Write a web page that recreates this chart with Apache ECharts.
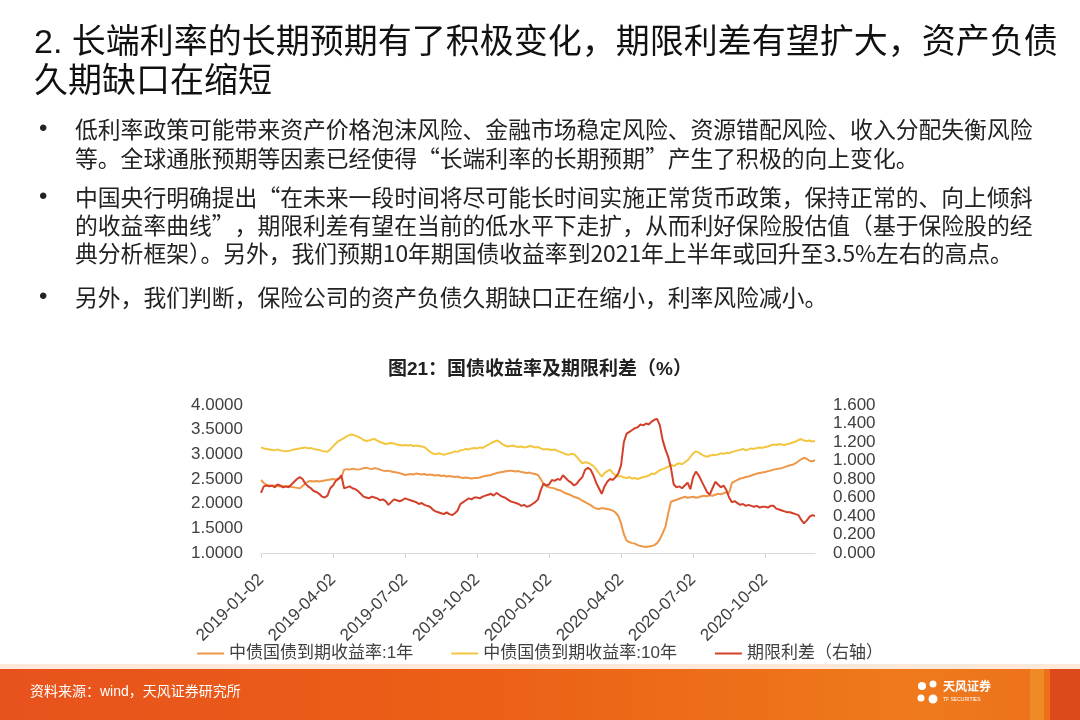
<!DOCTYPE html>
<html>
<head>
<meta charset="utf-8">
<script src="https://cdn.jsdelivr.net/npm/echarts@6/dist/echarts.min.js"></script>
<style>
html,body{margin:0;padding:0;background:#fff;}
#c{width:1080px;height:720px;}
</style>
</head>
<body>
<div id="c"></div>
<script>
// ---------- data ----------
const tickLabels = ['2019-01-02','2019-04-02','2019-07-02','2019-10-02','2020-01-02','2020-04-02','2020-07-02','2020-10-02'];
const pointsPerQuarter = [26,26,26,26,26,26,26,19];

const seriesNames = ['中债国债到期收益率:1年','中债国债到期收益率:10年','期限利差（右轴）'];

const yield1Y = [
  2.48,2.42,2.38,2.37,2.36,2.37,2.36,2.35,2.36,2.35,2.36,2.34,2.33,2.32,2.31,2.36,2.41,2.45,2.46,2.45,2.46,2.45,2.46,2.47,2.48,2.49,
  2.50,2.49,2.51,2.53,2.69,2.70,2.69,2.71,2.70,2.69,2.70,2.72,2.73,2.71,2.70,2.72,2.71,2.69,2.67,2.66,2.67,2.65,2.64,2.63,2.62,2.60,
  2.58,2.59,2.60,2.59,2.61,2.60,2.59,2.60,2.58,2.59,2.58,2.57,2.58,2.56,2.57,2.55,2.56,2.55,2.54,2.55,2.53,2.52,2.53,2.52,2.51,2.52,
  2.52,2.53,2.55,2.56,2.57,2.58,2.60,2.62,2.63,2.64,2.65,2.66,2.67,2.66,2.65,2.66,2.64,2.63,2.62,2.63,2.61,2.60,2.58,2.50,2.40,2.35,
  2.33,2.32,2.31,2.28,2.27,2.24,2.21,2.19,2.17,2.14,2.12,2.10,2.06,2.03,2.00,1.97,1.93,1.90,1.89,1.91,1.90,1.89,1.88,1.86,1.82,1.75,
  1.60,1.38,1.25,1.22,1.20,1.19,1.16,1.14,1.13,1.12,1.13,1.14,1.16,1.20,1.28,1.40,1.53,1.80,2.04,2.06,2.08,2.10,2.12,2.14,2.12,2.13,
  2.14,2.12,2.13,2.15,2.16,2.15,2.17,2.16,2.18,2.20,2.19,2.21,2.23,2.22,2.42,2.45,2.48,2.51,2.52,2.54,2.55,2.57,2.59,2.61,2.62,2.63,
  2.64,2.66,2.67,2.69,2.70,2.71,2.72,2.74,2.76,2.78,2.79,2.82,2.86,2.90,2.93,2.91,2.87,2.86,2.88
];

const yield10Y = [
  3.14,3.12,3.11,3.10,3.09,3.08,3.10,3.08,3.07,3.06,3.07,3.08,3.10,3.11,3.12,3.13,3.14,3.12,3.13,3.11,3.10,3.09,3.07,3.06,3.05,3.10,
  3.16,3.22,3.27,3.30,3.33,3.37,3.39,3.40,3.38,3.36,3.33,3.29,3.27,3.28,3.30,3.31,3.28,3.25,3.23,3.21,3.22,3.23,3.22,3.20,3.19,3.18,
  3.19,3.18,3.19,3.17,3.18,3.17,3.16,3.15,3.10,3.05,3.02,3.00,3.02,3.01,2.99,3.01,3.02,3.04,3.06,3.05,3.08,3.09,3.11,3.10,3.12,3.13,
  3.12,3.14,3.13,3.16,3.19,3.23,3.25,3.28,3.26,3.21,3.18,3.16,3.17,3.18,3.16,3.15,3.16,3.14,3.15,3.17,3.16,3.14,3.15,3.12,3.10,3.11,
  3.10,3.09,3.10,3.07,3.05,3.03,3.00,2.99,3.01,3.00,2.95,2.88,2.82,2.84,2.83,2.80,2.76,2.70,2.62,2.55,2.62,2.66,2.69,2.62,2.57,2.55,
  2.56,2.53,2.52,2.54,2.51,2.52,2.50,2.52,2.54,2.55,2.57,2.61,2.60,2.64,2.68,2.70,2.72,2.75,2.79,2.76,2.80,2.82,2.80,2.84,2.88,2.95,
  3.02,3.06,3.04,3.00,2.97,2.95,2.97,2.99,2.98,3.00,3.02,3.01,3.03,3.02,3.05,3.06,3.08,3.09,3.11,3.08,3.10,3.12,3.11,3.13,3.14,3.13,
  3.15,3.16,3.18,3.20,3.19,3.21,3.20,3.19,3.21,3.22,3.24,3.26,3.29,3.31,3.28,3.27,3.28,3.26,3.27
];

const termSpread = [
  0.65,0.72,0.73,0.72,0.73,0.71,0.74,0.73,0.71,0.72,0.71,0.74,0.77,0.80,0.82,0.80,0.75,0.72,0.70,0.67,0.66,0.64,0.61,0.60,0.62,0.70,
  0.73,0.78,0.80,0.84,0.70,0.71,0.72,0.70,0.69,0.67,0.64,0.61,0.60,0.59,0.61,0.60,0.59,0.57,0.58,0.56,0.52,0.55,0.58,0.57,0.56,0.57,
  0.59,0.58,0.57,0.56,0.55,0.53,0.54,0.52,0.51,0.50,0.47,0.45,0.44,0.43,0.42,0.44,0.42,0.41,0.43,0.46,0.53,0.55,0.57,0.59,0.58,0.60,
  0.60,0.59,0.61,0.62,0.63,0.64,0.62,0.65,0.63,0.61,0.60,0.58,0.56,0.55,0.54,0.53,0.51,0.52,0.50,0.51,0.53,0.55,0.58,0.68,0.75,0.73,
  0.74,0.79,0.78,0.80,0.79,0.84,0.81,0.78,0.76,0.73,0.75,0.79,0.82,0.90,0.92,0.90,0.84,0.76,0.70,0.64,0.72,0.77,0.80,0.79,0.82,0.86,
  0.95,1.20,1.29,1.31,1.33,1.35,1.36,1.39,1.38,1.40,1.39,1.42,1.44,1.45,1.38,1.22,1.12,1.04,0.92,0.74,0.71,0.72,0.70,0.73,0.76,0.69,
  0.82,0.88,0.84,0.78,0.72,0.66,0.63,0.70,0.77,0.74,0.71,0.73,0.68,0.60,0.55,0.56,0.54,0.52,0.53,0.51,0.52,0.51,0.50,0.51,0.49,0.50,
  0.50,0.49,0.51,0.51,0.48,0.47,0.46,0.45,0.44,0.44,0.43,0.42,0.41,0.36,0.32,0.35,0.39,0.41,0.40
];

const slideTitle = ['2. 长端利率的长期预期有了积极变化，期限利差有望扩大，资产负债', '久期缺口在缩短'];
const bulletLines = [
  ['低利率政策可能带来资产价格泡沫风险、金融市场稳定风险、资源错配风险、收入分配失衡风险',
   '等。全球通胀预期等因素已经使得“长端利率的长期预期”产生了积极的向上变化。'],
  ['中国央行明确提出“在未来一段时间将尽可能长时间实施正常货币政策，保持正常的、向上倾斜',
   '的收益率曲线”，期限利差有望在当前的低水平下走扩，从而利好保险股估值（基于保险股的经',
   '典分析框架）。另外，我们预期10年期国债收益率到2021年上半年或回升至3.5%左右的高点。'],
  ['另外，我们判断，保险公司的资产负债久期缺口正在缩小，利率风险减小。']
];
const chartTitle = '图21：国债收益率及期限利差（%）';
const sourceText = '资料来源：wind，天风证券研究所';

// ---------- categories (dates within each quarter) ----------
const categories = [];
tickLabels.forEach(function (lab, q) {
  const base = Date.parse(lab + 'T00:00:00Z');
  for (let k = 0; k < pointsPerQuarter[q]; k++) {
    const d = new Date(base + Math.round(k * 3.5) * 86400000);
    categories.push(d.toISOString().slice(0, 10));
  }
});
const isTick = function (idx, val) { return tickLabels.indexOf(val) >= 0; };

// ---------- layout ----------
const FONT = '"Liberation Sans", "Noto Sans CJK SC", sans-serif';
const CJK = '"Noto Sans CJK SC", "Liberation Sans", sans-serif';
const graphics = [];
slideTitle.forEach(function (t, i) {
  graphics.push({ type: 'text', x: 34, y: 44 + i * 39, style: { text: t, fontSize: 34, fontFamily: FONT, fill: '#111', verticalAlign: 'middle' } });
});
const bulletY = [[129, 158], [197, 225, 253], [297]];
bulletLines.forEach(function (lines, b) {
  graphics.push({ type: 'text', x: 39, y: bulletY[b][0], style: { text: '•', fontSize: 24, fontFamily: FONT, fill: '#222', verticalAlign: 'middle' } });
  lines.forEach(function (t, j) {
    graphics.push({ type: 'text', x: 75, y: bulletY[b][j], style: { text: t, fontSize: 22.8, fontFamily: CJK, fill: '#222', verticalAlign: 'middle' } });
  });
});
// footer bar
graphics.push({ type: 'rect', shape: { x: 0, y: 664, width: 1080, height: 6 }, style: { fill: '#FCE9DA' } });
graphics.push({ type: 'rect', shape: { x: 0, y: 669, width: 1080, height: 51 },
  style: { fill: new echarts.graphic.LinearGradient(0, 0, 1, 0, [
    { offset: 0, color: '#E8521D' }, { offset: 0.45, color: '#EB6016' }, { offset: 0.85, color: '#EF7A1C' }, { offset: 1, color: '#EC6E1C' }]) } });
graphics.push({ type: 'rect', shape: { x: 1030, y: 669, width: 14, height: 51 }, style: { fill: '#F08A25' } });
graphics.push({ type: 'rect', shape: { x: 1050, y: 669, width: 30, height: 51 }, style: { fill: '#DC4A1C' } });
graphics.push({ type: 'text', x: 30, y: 692, style: { text: sourceText, fontSize: 14, fontFamily: FONT, fill: '#fff', verticalAlign: 'middle' } });
// logo
[[922, 686, 4], [933, 684, 3.5], [921, 698, 3.5], [933, 699, 4.5]].forEach(function (c) {
  graphics.push({ type: 'circle', shape: { cx: c[0], cy: c[1], r: c[2] }, style: { fill: '#fff' } });
});
graphics.push({ type: 'text', x: 943, y: 688, style: { text: '天风证券', fontSize: 12, fontWeight: 'bold', fontFamily: FONT, fill: '#fff', verticalAlign: 'middle' } });
graphics.push({ type: 'text', x: 943, y: 700, style: { text: 'TF SECURITIES', fontSize: 5, fontFamily: FONT, fill: '#fff', verticalAlign: 'middle' } });

const chart = echarts.init(document.getElementById('c'), null, { renderer: 'canvas' });
chart.setOption({
  animation: false,
  backgroundColor: '#fff',
  textStyle: { fontFamily: FONT },
  title: { text: chartTitle, left: 'center', top: 355, textStyle: { fontSize: 19, fontWeight: 'bold', color: '#222', fontFamily: FONT } },
  graphic: graphics,
  grid: { left: 261, right: 265, top: 405, bottom: 167, containLabel: false },
  legend: {
    top: 640, left: 'center', icon: 'rect', itemWidth: 27, itemHeight: 2, itemGap: 38,
    textStyle: { fontSize: 17, color: '#404040', fontFamily: FONT },
    data: seriesNames
  },
  xAxis: {
    type: 'category', data: categories, boundaryGap: false,
    axisLine: { lineStyle: { color: '#d9d9d9' } },
    axisTick: { show: true, interval: isTick, length: 5, lineStyle: { color: '#d9d9d9' } },
    axisLabel: { interval: isTick, rotate: 45, fontSize: 17, color: '#404040', margin: 24, fontFamily: FONT }
  },
  yAxis: [
    { type: 'value', min: 1, max: 4, interval: 0.5, splitLine: { show: false }, axisLine: { show: false }, axisTick: { show: false },
      axisLabel: { fontSize: 17, color: '#404040', margin: 18, fontFamily: FONT, formatter: function (v) { return v.toFixed(4); } } },
    { type: 'value', position: 'right', min: 0, max: 1.6, interval: 0.2, splitLine: { show: false }, axisLine: { show: false }, axisTick: { show: false },
      axisLabel: { fontSize: 17, color: '#404040', margin: 18, fontFamily: FONT, formatter: function (v) { return v.toFixed(3); } } }
  ],
  series: [
    { name: seriesNames[0], type: 'line', data: yield1Y, yAxisIndex: 0, symbol: 'none', lineStyle: { width: 2, color: '#EE9748' }, itemStyle: { color: '#EE9748' } },
    { name: seriesNames[1], type: 'line', data: yield10Y, yAxisIndex: 0, symbol: 'none', lineStyle: { width: 2, color: '#F3C63F' }, itemStyle: { color: '#F3C63F' } },
    { name: seriesNames[2], type: 'line', data: termSpread, yAxisIndex: 1, symbol: 'none', lineStyle: { width: 2, color: '#D3402A' }, itemStyle: { color: '#D3402A' } }
  ]
});
</script>
</body>
</html>
